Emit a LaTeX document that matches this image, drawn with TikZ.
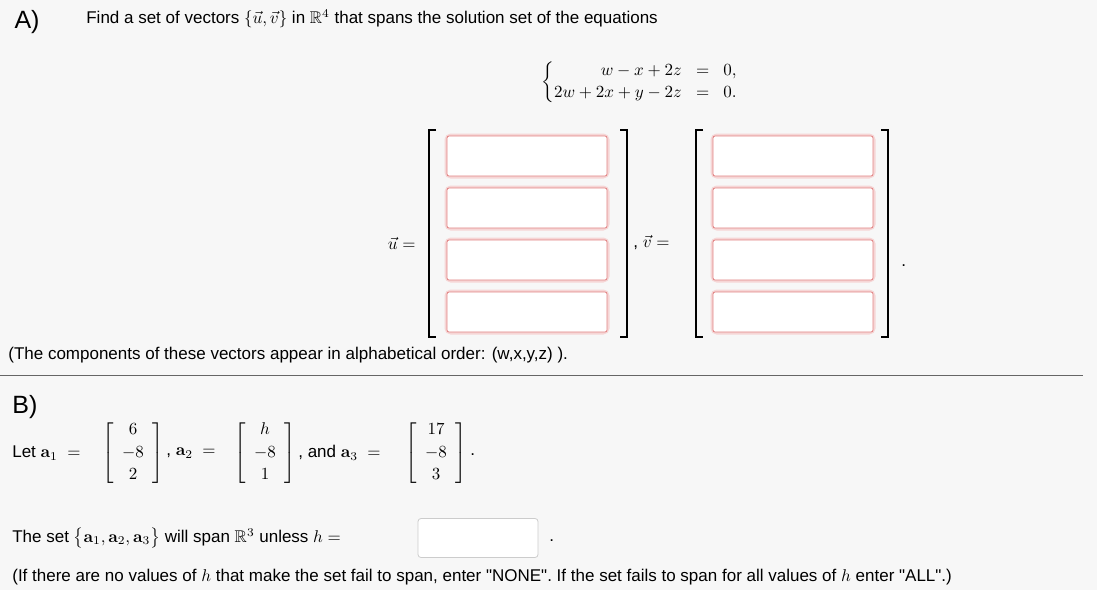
\documentclass[tikz,border=0pt]{standalone}
\usepackage{amsmath,amssymb}
\usepackage[no-math]{fontspec}
\setmainfont{Liberation Sans}
\usetikzlibrary{calc}
\definecolor{bg}{HTML}{F7F7F7}
\definecolor{boxred}{HTML}{E08080}
\definecolor{glow}{HTML}{F6D6D6}
\begin{document}
\begin{tikzpicture}[x=1pt,y=-1pt,
  txt/.style={inner sep=0pt,anchor=west,font=\normalsize,scale=1.7},
  mth/.style={inner sep=0pt,font=\normalsize,scale=1.7},
  lab/.style={inner sep=0pt,anchor=west,font=\normalsize,scale=2.5},
  ansbox/.style={draw=boxred,line width=0.8pt,fill=white,rounded corners=2pt,minimum width=160pt,minimum height=40pt,inner sep=0pt},
  glowbox/.style={draw=glow,line width=5pt,rounded corners=4pt,minimum width=160pt,minimum height=40pt,inner sep=0pt},
  plainbox/.style={draw=black!20,line width=0.8pt,fill=white,rounded corners=3pt,minimum width=120pt,minimum height=39pt,inner sep=0pt},
  brk/.style={line width=1.3pt}]
\fill[bg] (0,0) rectangle (1097,590);
\fill[white] (0,590) rectangle (1097,600);
\useasboundingbox (0,0) rectangle (1097,600);
\path (14,22) node[lab] (A) {A)};
\path (86,19) node[txt] (q1) {Find a set of vectors $\{\vec u,\vec v\}$ in $\mathbb{R}^4$ that spans the solution set of the equations};
\path (640,82) node[mth] (eq) {$\left\{\begin{aligned}w-x+2z&\;\;=\;\;0,\\[-2pt]2w+2x+y-2z&\;\;=\;\;0.\end{aligned}\right.$};
\path (416,243) node[txt,anchor=east] (ueq) {$\vec u=$};
\foreach \i/\y in {1/156,2/208,3/260,4/312}{
  \node[glowbox] at (527,\y) {};
  \node[ansbox] (u\i) at (527,\y) {};
  \node[glowbox] at (793,\y) {};
  \node[ansbox] (v\i) at (793,\y) {};
}
\draw[brk] (436,130) -- (429,130) -- (429,337) -- (436,337);
\draw[brk] (620,130) -- (627,130) -- (627,337) -- (620,337);
\path (633,243) node[txt] (veq) {, $\vec v=$};
\draw[brk] (703,130) -- (696,130) -- (696,337) -- (703,337);
\draw[brk] (881,130) -- (888,130) -- (888,337) -- (881,337);
\path (901,266) node[txt] (dot1) {.};
\path (8,355) node[txt] (comp) {(The components of these vectors appear in alphabetical order: (w,x,y,z) ).};
\draw[black!60,line width=0.8pt] (0,375) -- (1083,375);
\path (12,407) node[lab] (B) {B)};
\path (12,453) node[txt] (let) {Let $\mathbf{a}_1\;=$};
\path (133,453) node[mth] (m1) {$\left[\begin{array}{c}6\\[1pt]-8\\[1pt]2\end{array}\right]$};
\path (166,453) node[txt] (a2) {, $\mathbf{a}_2\;=$};
\path (265,453) node[mth] (m2) {$\left[\begin{array}{c}h\\[1pt]-8\\[1pt]1\end{array}\right]$};
\path (298,453) node[txt] (a3) {, and $\mathbf{a}_3\;=$};
\path (436,453) node[mth] (m3) {$\left[\begin{array}{c}17\\[1pt]-8\\[1pt]3\end{array}\right]$};
\path (470,455) node[txt] (dot2) {.};
\path (12,538) node[txt] (set) {The set $\bigl\{\mathbf{a}_1,\mathbf{a}_2,\mathbf{a}_3\bigr\}$ will span $\mathbb{R}^3$ unless $h=$};
\node[plainbox] (hbox) at (478,538) {};
\path (549,541) node[txt] (dot3) {.};
\path (12,577) node[txt] (note) {(If there are no values of $h$ that make the set fail to span, enter \textquotedbl NONE\textquotedbl. If the set fails to span for all values of $h$ enter \textquotedbl ALL\textquotedbl.)};
\end{tikzpicture}
\end{document}
